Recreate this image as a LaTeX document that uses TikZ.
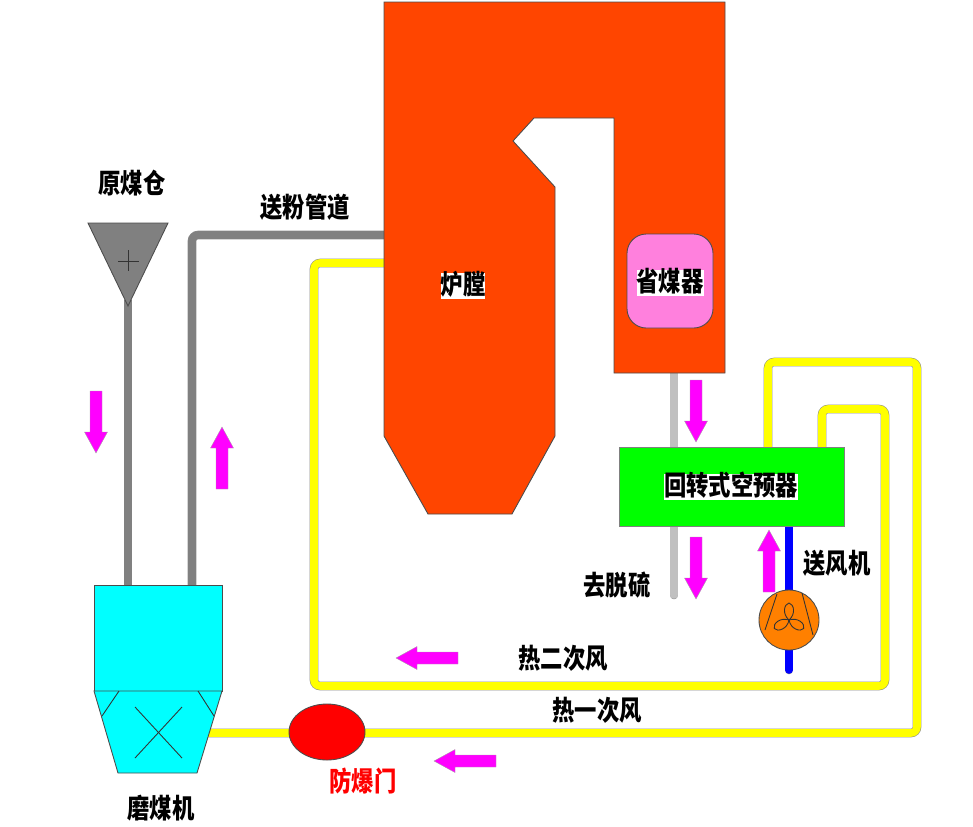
\documentclass[tikz,border=0pt]{standalone}
\usepackage{fontspec}
\newfontfamily\cjkfont{Noto Sans CJK SC}[FakeStretch=0.82]
\usetikzlibrary{calc}

\definecolor{furnacered}{HTML}{FF4500}
\definecolor{econopink}{HTML}{FF80DD}
\definecolor{fanorange}{HTML}{FF8000}
\definecolor{pureyellow}{HTML}{FFFF00}
\definecolor{purecyan}{HTML}{00FFFF}
\definecolor{puremagenta}{HTML}{FF00FF}
\definecolor{puregreen}{HTML}{00FF00}
\definecolor{pureblue}{HTML}{0000FF}
\definecolor{purered}{HTML}{FF0000}
\definecolor{coalgray}{HTML}{808080}
\definecolor{fluegray}{HTML}{C0C0C0}

\tikzset{
  pipe/.style={draw=black!45, line width=0.3pt, double distance=4.3pt, rounded corners=3.5pt},
  shell/.style={draw=black!70, line width=0.5pt},
  thinline/.style={draw=black!80, line width=0.5pt},
  flowarrow/.style={fill=puremagenta, draw=black!35, line width=0.2pt},
  tag/.style={font=\cjkfont\fontsize{15.5}{15.5}\selectfont\bfseries, inner sep=0pt},
  whitetag/.style={tag, fill=white, text height=12.6pt, text depth=2.6pt}
}

\begin{document}
\begin{tikzpicture}[x=0.02cm, y=-0.02cm]
    \useasboundingbox (0,0) rectangle (973,826);

    % pipes
    \coordinate (millcoal) at (128,585);
    \coordinate (binout) at (128,300);
    \coordinate (millpowder) at (192,585);
    \coordinate (furnacepowder) at (386,235);
    \coordinate (furnaceair) at (386,263);
    \coordinate (heatersec) at (822,449);
    \coordinate (heaterpri) at (768,449);
    \coordinate (millair) at (208,733);
    \coordinate (flueup) at (674,373);
    \coordinate (fluein) at (674,449);
    \coordinate (flueout) at (674,524);
    \coordinate (flueend) at (674,595);
    \coordinate (blowtop) at (789,524);
    \coordinate (blowend) at (789,670);

    \draw[pipe, double=coalgray] (millcoal) -- (binout);
    \draw[pipe, double=coalgray] (millpowder) -- (192,235) -- (furnacepowder);
    \draw[pipe, double=pureyellow] (furnaceair) -- (314,263) -- (314,686) -- (885,686) -- (885,409) -- (822,409) -- (heatersec);
    \draw[pipe, double=pureyellow] (millair) -- (917,733) -- (917,362) -- (768,362) -- (heaterpri);
    \draw[pipe, double=fluegray, line cap=round] (flueup) -- (fluein);
    \draw[pipe, double=fluegray, line cap=round] (flueout) -- (flueend);
    \draw[pipe, double=pureblue, line cap=round] (blowtop) -- (blowend);

    % furnace and economizer
    \filldraw[shell, fill=furnacered] (384,2) -- (725,2) -- (725,373) -- (614,373) -- (614,118) -- (534,118) -- (513,141) -- (555,187) -- (555,436) -- (512,514) -- (428,514) -- (384,436) -- cycle;
    \filldraw[shell, fill=econopink, rounded corners=11pt] (627,234) rectangle (713,328);
    \node[whitetag] (furnacetag) at (463,286) {炉膛};
    \node[whitetag] (econotag) at (670,283) {省煤器};

    % coal bin
    \filldraw[shell, fill=coalgray] (88,223) -- (168,223) -- (128,306) -- cycle;
    \draw[thinline] (118,261) -- (139,261);
    \draw[thinline] (128,250) -- (128,271);

    % mill
    \filldraw[shell, fill=purecyan] (94,585) rectangle (222,691);
    \filldraw[shell, fill=purecyan] (94,691) -- (222,691) -- (197,773) -- (118,773) -- cycle;
    \draw[thinline] (119,691) -- (102,716);
    \draw[thinline] (198,691) -- (214,716);
    \draw[thinline] (135,707) -- (182,758);
    \draw[thinline] (182,707) -- (135,758);

    % explosion door
    \filldraw[shell, fill=purered] (327,732) ellipse (38 and 28);

    % air heater
    \filldraw[draw=black!50, line width=0.4pt, fill=puregreen] (619,447) rectangle (844,526);
    \node[whitetag] (heatertag) at (731,487) {回转式空预器};

    % fan
    \filldraw[shell, fill=fanorange] (789,620) circle (30);
    \draw[thinline] (777,594) -- (765,630);
    \draw[thinline] (802,593) -- (813,635);
    \foreach \ang in {0,120,240} {
        \draw[thinline, shift={(789,620)}, rotate=\ang] (0,0) .. controls (7,-6) and (5,-16) .. (0,-17) .. controls (-5,-16) and (-7,-6) .. (0,0);
    }

    % flow arrows
    \foreach \xa/\ya/\ang in {96/453/0, 222/427/180, 696/442/0, 696/599/0, 769/530/180, 396/658/270, 434/761/270} {
        \filldraw[flowarrow, shift={(\xa,\ya)}, rotate=\ang] (0,0) -- (-11.5,-21) -- (-6,-21) -- (-6,-62) -- (6,-62) -- (6,-21) -- (11.5,-21) -- cycle;
    }

    % labels
    \node[tag] (bintag) at (132,183) {原煤仓};
    \node[tag] (powdertag) at (305,207) {送粉管道};
    \node[tag] (milltag) at (161,808) {磨煤机};
    \node[tag, text=purered] (doortag) at (363,781) {防爆门};
    \node[tag] (desulfurtag) at (617,585) {去脱硫};
    \node[tag] (blowertag) at (837,563) {送风机};
    \node[tag] (secairtag) at (563,658) {热二次风};
    \node[tag] (priairtag) at (597,710) {热一次风};
\end{tikzpicture}
\end{document}
